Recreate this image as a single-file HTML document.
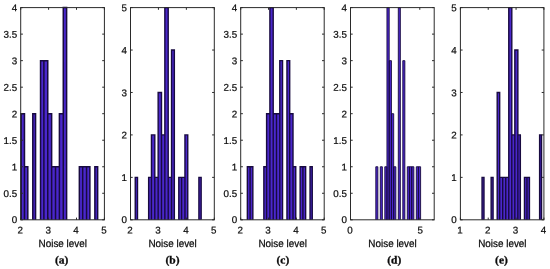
<!DOCTYPE html>
<html><head><meta charset="utf-8"><title>Noise level histograms</title>
<style>html,body{margin:0;padding:0;background:#fff;}svg{display:block;text-rendering:geometricPrecision;filter:blur(0.3px);}</style>
</head><body>
<svg width="550" height="269" viewBox="0 0 550 269">
<rect width="550" height="269" fill="#fff"/>
<g>
<path d="M21.15 219.8V113.7H24.48V219.8zM24.48 219.8V166.75H27.81V219.8zM32.79 219.8V113.7H35.57V219.8zM40.55 219.8V60.65H43.88V219.8zM43.88 219.8V60.65H47.76V219.8zM47.76 219.8V113.7H51.64V219.8zM51.64 219.8V166.75H55.52V219.8zM55.52 219.8V166.75H59.4V219.8zM59.4 219.8V113.7H63.28V219.8zM63.28 219.8V7.6H66.61V219.8zM79.35 219.8V166.75H82.68V219.8zM82.68 219.8V166.75H86.56V219.8zM86.56 219.8V166.75H89.89V219.8zM94.87 219.8V166.75H97.65V219.8z" fill="#4a27cc"/>
<path d="M21.15 219.8V113.7H24.48V219.8M24.48 219.8V166.75H27.81V219.8M32.79 219.8V113.7H35.57V219.8M40.55 219.8V60.65H43.88V219.8M43.88 219.8V60.65H47.76V219.8M47.76 219.8V113.7H51.64V219.8M51.64 219.8V166.75H55.52V219.8M55.52 219.8V166.75H59.4V219.8M59.4 219.8V113.7H63.28V219.8M63.28 219.8V7.6H66.61V219.8M79.35 219.8V166.75H82.68V219.8M82.68 219.8V166.75H86.56V219.8M86.56 219.8V166.75H89.89V219.8M94.87 219.8V166.75H97.65V219.8" fill="none" stroke="#180a40" stroke-width="1.5"/>
<rect x="20.7" y="7.6" width="83.7" height="212.2" fill="none" stroke="#2a2a2a" stroke-width="1"/>
<path d="M20.7 219.8v-2.2M20.7 7.6v2.2M48.6 219.8v-2.2M48.6 7.6v2.2M76.5 219.8v-2.2M76.5 7.6v2.2M104.4 219.8v-2.2M104.4 7.6v2.2M20.7 219.8h2.2M104.4 219.8h-2.2M20.7 193.28h2.2M104.4 193.28h-2.2M20.7 166.75h2.2M104.4 166.75h-2.2M20.7 140.23h2.2M104.4 140.23h-2.2M20.7 113.7h2.2M104.4 113.7h-2.2M20.7 87.18h2.2M104.4 87.18h-2.2M20.7 60.65h2.2M104.4 60.65h-2.2M20.7 34.12h2.2M104.4 34.12h-2.2M20.7 7.6h2.2M104.4 7.6h-2.2" stroke="#2a2a2a" stroke-width="1" fill="none"/>
<g font-family="'Liberation Sans', Arial, sans-serif" font-size="9.8" fill="#0a0a0a" stroke="#0a0a0a" stroke-width="0.22">
<text transform="translate(17.1 223.1) rotate(0.05)" text-anchor="end">0</text>
<text transform="translate(17.1 196.97) rotate(0.05)" text-anchor="end">0.5</text>
<text transform="translate(17.1 170.45) rotate(0.05)" text-anchor="end">1</text>
<text transform="translate(17.1 143.93) rotate(0.05)" text-anchor="end">1.5</text>
<text transform="translate(17.1 117.4) rotate(0.05)" text-anchor="end">2</text>
<text transform="translate(17.1 90.88) rotate(0.05)" text-anchor="end">2.5</text>
<text transform="translate(17.1 64.35) rotate(0.05)" text-anchor="end">3</text>
<text transform="translate(17.1 37.83) rotate(0.05)" text-anchor="end">3.5</text>
<text transform="translate(17.1 11.3) rotate(0.05)" text-anchor="end">4</text>
<text transform="translate(20.2 233.5) rotate(0.05)" text-anchor="middle">2</text>
<text transform="translate(48.1 233.5) rotate(0.05)" text-anchor="middle">3</text>
<text transform="translate(76 233.5) rotate(0.05)" text-anchor="middle">4</text>
<text transform="translate(103.9 233.5) rotate(0.05)" text-anchor="middle">5</text>
<text transform="translate(38.55 246.95) rotate(0.05)" font-size="10.5" stroke-width="0.25" textLength="48.4" lengthAdjust="spacingAndGlyphs">Noise level</text>
</g>
<text transform="translate(61.7 263.4) rotate(0.05) scale(1.056 1)" text-anchor="middle" font-family="'Liberation Serif', 'Times New Roman', serif" font-weight="bold" font-size="10.9" fill="#0a0a0a" stroke="#0a0a0a" stroke-width="0.3">(a)</text>
</g>
<g>
<path d="M135.25 219.8V177.36H137.5V219.8zM148.65 219.8V177.36H151.45V219.8zM151.45 219.8V134.92H154.8V219.8zM154.8 219.8V177.36H158.15V219.8zM158.15 219.8V92.48H161.5V219.8zM161.5 219.8V134.92H164.85V219.8zM164.85 219.8V7.6H168.2V219.8zM168.2 219.8V177.36H171.55V219.8zM171.55 219.8V50.04H174.35V219.8zM178.8 219.8V177.36H181.6V219.8zM181.6 219.8V177.36H184.95V219.8zM184.95 219.8V134.92H187.75V219.8zM198.9 219.8V177.36H201.15V219.8z" fill="#4a27cc"/>
<path d="M135.25 219.8V177.36H137.5V219.8M148.65 219.8V177.36H151.45V219.8M151.45 219.8V134.92H154.8V219.8M154.8 219.8V177.36H158.15V219.8M158.15 219.8V92.48H161.5V219.8M161.5 219.8V134.92H164.85V219.8M164.85 219.8V7.6H168.2V219.8M168.2 219.8V177.36H171.55V219.8M171.55 219.8V50.04H174.35V219.8M178.8 219.8V177.36H181.6V219.8M181.6 219.8V177.36H184.95V219.8M184.95 219.8V134.92H187.75V219.8M198.9 219.8V177.36H201.15V219.8" fill="none" stroke="#180a40" stroke-width="1.4"/>
<rect x="130.5" y="7.6" width="83.8" height="212.2" fill="none" stroke="#2a2a2a" stroke-width="1"/>
<path d="M130.5 219.8v-2.2M130.5 7.6v2.2M158.43 219.8v-2.2M158.43 7.6v2.2M186.37 219.8v-2.2M186.37 7.6v2.2M214.3 219.8v-2.2M214.3 7.6v2.2M130.5 219.8h2.2M214.3 219.8h-2.2M130.5 177.36h2.2M214.3 177.36h-2.2M130.5 134.92h2.2M214.3 134.92h-2.2M130.5 92.48h2.2M214.3 92.48h-2.2M130.5 50.04h2.2M214.3 50.04h-2.2M130.5 7.6h2.2M214.3 7.6h-2.2" stroke="#2a2a2a" stroke-width="1" fill="none"/>
<g font-family="'Liberation Sans', Arial, sans-serif" font-size="9.8" fill="#0a0a0a" stroke="#0a0a0a" stroke-width="0.22">
<text transform="translate(126.9 223.1) rotate(0.05)" text-anchor="end">0</text>
<text transform="translate(126.9 181.06) rotate(0.05)" text-anchor="end">1</text>
<text transform="translate(126.9 138.62) rotate(0.05)" text-anchor="end">2</text>
<text transform="translate(126.9 96.18) rotate(0.05)" text-anchor="end">3</text>
<text transform="translate(126.9 53.74) rotate(0.05)" text-anchor="end">4</text>
<text transform="translate(126.9 11.3) rotate(0.05)" text-anchor="end">5</text>
<text transform="translate(130 233.5) rotate(0.05)" text-anchor="middle">2</text>
<text transform="translate(157.93 233.5) rotate(0.05)" text-anchor="middle">3</text>
<text transform="translate(185.87 233.5) rotate(0.05)" text-anchor="middle">4</text>
<text transform="translate(213.8 233.5) rotate(0.05)" text-anchor="middle">5</text>
<text transform="translate(148.4 246.95) rotate(0.05)" font-size="10.5" stroke-width="0.25" textLength="48.4" lengthAdjust="spacingAndGlyphs">Noise level</text>
</g>
<text transform="translate(172.5 263.4) rotate(0.05) scale(1.056 1)" text-anchor="middle" font-family="'Liberation Serif', 'Times New Roman', serif" font-weight="bold" font-size="10.9" fill="#0a0a0a" stroke="#0a0a0a" stroke-width="0.3">(b)</text>
</g>
<g>
<path d="M247.35 219.8V166.75H250.1V219.8zM250.1 219.8V166.75H252.85V219.8zM263.85 219.8V166.75H266.6V219.8zM266.6 219.8V113.7H269.9V219.8zM269.9 219.8V7.6H273.2V219.8zM273.2 219.8V113.7H276.5V219.8zM276.5 219.8V113.7H279.8V219.8zM279.8 219.8V60.65H282.55V219.8zM286.95 219.8V60.65H289.7V219.8zM289.7 219.8V113.7H293V219.8zM293 219.8V166.75H295.75V219.8zM300.15 219.8V166.75H302.9V219.8zM302.9 219.8V166.75H305.65V219.8zM310.05 219.8V166.75H312.25V219.8z" fill="#4a27cc"/>
<path d="M247.35 219.8V166.75H250.1V219.8M250.1 219.8V166.75H252.85V219.8M263.85 219.8V166.75H266.6V219.8M266.6 219.8V113.7H269.9V219.8M269.9 219.8V7.6H273.2V219.8M273.2 219.8V113.7H276.5V219.8M276.5 219.8V113.7H279.8V219.8M279.8 219.8V60.65H282.55V219.8M286.95 219.8V60.65H289.7V219.8M289.7 219.8V113.7H293V219.8M293 219.8V166.75H295.75V219.8M300.15 219.8V166.75H302.9V219.8M302.9 219.8V166.75H305.65V219.8M310.05 219.8V166.75H312.25V219.8" fill="none" stroke="#180a40" stroke-width="1.4"/>
<rect x="240.7" y="7.6" width="83.5" height="212.2" fill="none" stroke="#2a2a2a" stroke-width="1"/>
<path d="M240.7 219.8v-2.2M240.7 7.6v2.2M268.53 219.8v-2.2M268.53 7.6v2.2M296.37 219.8v-2.2M296.37 7.6v2.2M324.2 219.8v-2.2M324.2 7.6v2.2M240.7 219.8h2.2M324.2 219.8h-2.2M240.7 193.28h2.2M324.2 193.28h-2.2M240.7 166.75h2.2M324.2 166.75h-2.2M240.7 140.23h2.2M324.2 140.23h-2.2M240.7 113.7h2.2M324.2 113.7h-2.2M240.7 87.18h2.2M324.2 87.18h-2.2M240.7 60.65h2.2M324.2 60.65h-2.2M240.7 34.12h2.2M324.2 34.12h-2.2M240.7 7.6h2.2M324.2 7.6h-2.2" stroke="#2a2a2a" stroke-width="1" fill="none"/>
<g font-family="'Liberation Sans', Arial, sans-serif" font-size="9.8" fill="#0a0a0a" stroke="#0a0a0a" stroke-width="0.22">
<text transform="translate(237.1 223.1) rotate(0.05)" text-anchor="end">0</text>
<text transform="translate(237.1 196.97) rotate(0.05)" text-anchor="end">0.5</text>
<text transform="translate(237.1 170.45) rotate(0.05)" text-anchor="end">1</text>
<text transform="translate(237.1 143.93) rotate(0.05)" text-anchor="end">1.5</text>
<text transform="translate(237.1 117.4) rotate(0.05)" text-anchor="end">2</text>
<text transform="translate(237.1 90.88) rotate(0.05)" text-anchor="end">2.5</text>
<text transform="translate(237.1 64.35) rotate(0.05)" text-anchor="end">3</text>
<text transform="translate(237.1 37.83) rotate(0.05)" text-anchor="end">3.5</text>
<text transform="translate(237.1 11.3) rotate(0.05)" text-anchor="end">4</text>
<text transform="translate(240.2 233.5) rotate(0.05)" text-anchor="middle">2</text>
<text transform="translate(268.03 233.5) rotate(0.05)" text-anchor="middle">3</text>
<text transform="translate(295.87 233.5) rotate(0.05)" text-anchor="middle">4</text>
<text transform="translate(323.7 233.5) rotate(0.05)" text-anchor="middle">5</text>
<text transform="translate(258.45 246.95) rotate(0.05)" font-size="10.5" stroke-width="0.25" textLength="48.4" lengthAdjust="spacingAndGlyphs">Noise level</text>
</g>
<text transform="translate(282.85 263.4) rotate(0.05) scale(1.056 1)" text-anchor="middle" font-family="'Liberation Serif', 'Times New Roman', serif" font-weight="bold" font-size="10.9" fill="#0a0a0a" stroke="#0a0a0a" stroke-width="0.3">(c)</text>
</g>
<g>
<path d="M375.8 219.8V166.75H377.85V219.8zM380.3 219.8V166.75H382.35V219.8zM384.8 219.8V166.75H386.95V219.8zM386.95 219.8V7.6H389.2V219.8zM389.2 219.8V60.65H391.45V219.8zM391.45 219.8V113.7H393.7V219.8zM393.7 219.8V166.75H395.85V219.8zM398.3 219.8V7.6H400.35V219.8zM402.8 219.8V60.65H404.85V219.8zM407.3 219.8V166.75H409.45V219.8zM409.45 219.8V166.75H411.7V219.8zM411.7 219.8V166.75H413.85V219.8zM416.3 219.8V166.75H418.45V219.8zM418.45 219.8V166.75H420.6V219.8z" fill="#4a27cc"/>
<path d="M375.8 219.8V166.75H377.85V219.8M380.3 219.8V166.75H382.35V219.8M384.8 219.8V166.75H386.95V219.8M386.95 219.8V7.6H389.2V219.8M389.2 219.8V60.65H391.45V219.8M391.45 219.8V113.7H393.7V219.8M393.7 219.8V166.75H395.85V219.8M398.3 219.8V7.6H400.35V219.8M402.8 219.8V60.65H404.85V219.8M407.3 219.8V166.75H409.45V219.8M409.45 219.8V166.75H411.7V219.8M411.7 219.8V166.75H413.85V219.8M416.3 219.8V166.75H418.45V219.8M418.45 219.8V166.75H420.6V219.8" fill="none" stroke="#180a40" stroke-width="0.9"/>
<rect x="350.5" y="7.6" width="83.7" height="212.2" fill="none" stroke="#2a2a2a" stroke-width="1"/>
<path d="M350.5 219.8v-2.2M350.5 7.6v2.2M419.79 219.8v-2.2M419.79 7.6v2.2M350.5 219.8h2.2M434.2 219.8h-2.2M350.5 193.28h2.2M434.2 193.28h-2.2M350.5 166.75h2.2M434.2 166.75h-2.2M350.5 140.23h2.2M434.2 140.23h-2.2M350.5 113.7h2.2M434.2 113.7h-2.2M350.5 87.18h2.2M434.2 87.18h-2.2M350.5 60.65h2.2M434.2 60.65h-2.2M350.5 34.12h2.2M434.2 34.12h-2.2M350.5 7.6h2.2M434.2 7.6h-2.2" stroke="#2a2a2a" stroke-width="1" fill="none"/>
<g font-family="'Liberation Sans', Arial, sans-serif" font-size="9.8" fill="#0a0a0a" stroke="#0a0a0a" stroke-width="0.22">
<text transform="translate(346.9 223.1) rotate(0.05)" text-anchor="end">0</text>
<text transform="translate(346.9 196.97) rotate(0.05)" text-anchor="end">0.5</text>
<text transform="translate(346.9 170.45) rotate(0.05)" text-anchor="end">1</text>
<text transform="translate(346.9 143.93) rotate(0.05)" text-anchor="end">1.5</text>
<text transform="translate(346.9 117.4) rotate(0.05)" text-anchor="end">2</text>
<text transform="translate(346.9 90.88) rotate(0.05)" text-anchor="end">2.5</text>
<text transform="translate(346.9 64.35) rotate(0.05)" text-anchor="end">3</text>
<text transform="translate(346.9 37.83) rotate(0.05)" text-anchor="end">3.5</text>
<text transform="translate(346.9 11.3) rotate(0.05)" text-anchor="end">4</text>
<text transform="translate(350 233.5) rotate(0.05)" text-anchor="middle">0</text>
<text transform="translate(420.19 233.5) rotate(0.05)" text-anchor="middle">5</text>
<text transform="translate(368.35 246.95) rotate(0.05)" font-size="10.5" stroke-width="0.25" textLength="48.4" lengthAdjust="spacingAndGlyphs">Noise level</text>
</g>
<text transform="translate(394.2 263.4) rotate(0.05) scale(1.056 1)" text-anchor="middle" font-family="'Liberation Serif', 'Times New Roman', serif" font-weight="bold" font-size="10.9" fill="#0a0a0a" stroke="#0a0a0a" stroke-width="0.3">(d)</text>
</g>
<g>
<path d="M482.05 219.8V177.36H483.98V219.8zM491.14 219.8V177.36H493.07V219.8zM497.2 219.8V92.48H499.68V219.8zM499.68 219.8V177.36H502.71V219.8zM502.71 219.8V177.36H505.74V219.8zM505.74 219.8V177.36H508.77V219.8zM508.77 219.8V7.6H511.8V219.8zM511.8 219.8V134.92H514.83V219.8zM514.83 219.8V50.04H517.86V219.8zM517.86 219.8V134.92H520.34V219.8zM524.47 219.8V177.36H526.95V219.8zM526.95 219.8V177.36H529.43V219.8zM539.62 219.8V134.92H541.55V219.8z" fill="#4a27cc"/>
<path d="M482.05 219.8V177.36H483.98V219.8M491.14 219.8V177.36H493.07V219.8M497.2 219.8V92.48H499.68V219.8M499.68 219.8V177.36H502.71V219.8M502.71 219.8V177.36H505.74V219.8M505.74 219.8V177.36H508.77V219.8M508.77 219.8V7.6H511.8V219.8M511.8 219.8V134.92H514.83V219.8M514.83 219.8V50.04H517.86V219.8M517.86 219.8V134.92H520.34V219.8M524.47 219.8V177.36H526.95V219.8M526.95 219.8V177.36H529.43V219.8M539.62 219.8V134.92H541.55V219.8" fill="none" stroke="#180a40" stroke-width="1.4"/>
<rect x="460.4" y="7.6" width="83.5" height="212.2" fill="none" stroke="#2a2a2a" stroke-width="1"/>
<path d="M460.4 219.8v-2.2M460.4 7.6v2.2M488.23 219.8v-2.2M488.23 7.6v2.2M516.07 219.8v-2.2M516.07 7.6v2.2M543.9 219.8v-2.2M543.9 7.6v2.2M460.4 219.8h2.2M543.9 219.8h-2.2M460.4 177.36h2.2M543.9 177.36h-2.2M460.4 134.92h2.2M543.9 134.92h-2.2M460.4 92.48h2.2M543.9 92.48h-2.2M460.4 50.04h2.2M543.9 50.04h-2.2M460.4 7.6h2.2M543.9 7.6h-2.2" stroke="#2a2a2a" stroke-width="1" fill="none"/>
<g font-family="'Liberation Sans', Arial, sans-serif" font-size="9.8" fill="#0a0a0a" stroke="#0a0a0a" stroke-width="0.22">
<text transform="translate(456.8 223.1) rotate(0.05)" text-anchor="end">0</text>
<text transform="translate(456.8 181.06) rotate(0.05)" text-anchor="end">1</text>
<text transform="translate(456.8 138.62) rotate(0.05)" text-anchor="end">2</text>
<text transform="translate(456.8 96.18) rotate(0.05)" text-anchor="end">3</text>
<text transform="translate(456.8 53.74) rotate(0.05)" text-anchor="end">4</text>
<text transform="translate(456.8 11.3) rotate(0.05)" text-anchor="end">5</text>
<text transform="translate(459.9 233.5) rotate(0.05)" text-anchor="middle">1</text>
<text transform="translate(487.73 233.5) rotate(0.05)" text-anchor="middle">2</text>
<text transform="translate(515.57 233.5) rotate(0.05)" text-anchor="middle">3</text>
<text transform="translate(543.4 233.5) rotate(0.05)" text-anchor="middle">4</text>
<text transform="translate(478.15 246.95) rotate(0.05)" font-size="10.5" stroke-width="0.25" textLength="48.4" lengthAdjust="spacingAndGlyphs">Noise level</text>
</g>
<text transform="translate(501.45 263.4) rotate(0.05) scale(1.056 1)" text-anchor="middle" font-family="'Liberation Serif', 'Times New Roman', serif" font-weight="bold" font-size="10.9" fill="#0a0a0a" stroke="#0a0a0a" stroke-width="0.3">(e)</text>
</g>
</svg>
</body></html>
